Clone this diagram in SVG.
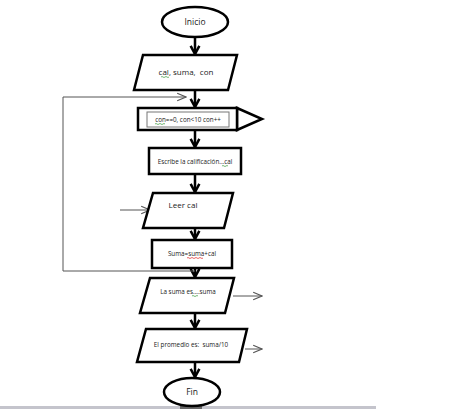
<svg xmlns="http://www.w3.org/2000/svg" width="474" height="410" viewBox="0 0 474 410">
<style>
.s{fill:#fff;stroke:#000;stroke-width:2.5}
.t{font-family:"Open Sans","Liberation Sans",Arial,sans-serif;fill:#222;text-anchor:middle;white-space:pre}
.f{stroke:#000;stroke-width:2.5;fill:none}
.g{stroke:#555;stroke-width:1;fill:none}
.w{fill:none;stroke-width:0.7}
</style>
<defs>
<marker id="a" viewBox="0 0 10 10" refX="8.5" refY="5" markerWidth="4.6" markerHeight="4.6" orient="auto" markerUnits="strokeWidth">
<polyline points="1.5,1.2 8.5,5 1.5,8.8" fill="none" stroke="#000" stroke-width="2.2"/>
</marker>
<marker id="o" viewBox="0 0 10 10" refX="9" refY="5" markerWidth="11" markerHeight="11" orient="auto" markerUnits="strokeWidth">
<polyline points="1,1.5 9,5 1,8.5" fill="none" stroke="#555" stroke-width="1"/>
</marker>
</defs>
<rect x="0" y="406" width="376" height="3" fill="#c4c4cc"/>
<rect x="180" y="406" width="22" height="3" fill="#666"/>
<g id="connectors">
<line class="f" x1="195" y1="37" x2="195" y2="54" marker-end="url(#a)"/>
<line class="f" x1="195" y1="90" x2="195" y2="107" marker-end="url(#a)"/>
<line class="f" x1="195" y1="130" x2="195" y2="147" marker-end="url(#a)"/>
<line class="f" x1="195" y1="174" x2="195" y2="192" marker-end="url(#a)"/>
<line class="f" x1="195" y1="228" x2="195" y2="239" marker-end="url(#a)"/>
<line class="f" x1="195" y1="268" x2="195" y2="277" marker-end="url(#a)"/>
<line class="f" x1="195" y1="313" x2="195" y2="328" marker-end="url(#a)"/>
<line class="f" x1="195" y1="362" x2="195" y2="377" marker-end="url(#a)"/>
<polyline class="g" points="195,271 63,271 63,97 186,97" marker-end="url(#o)"/>
<line class="g" x1="120" y1="210" x2="150" y2="210" marker-end="url(#o)"/>
<line class="g" x1="233" y1="296" x2="262" y2="296" marker-end="url(#o)"/>
<line class="g" x1="245" y1="349" x2="262" y2="349" marker-end="url(#o)"/>
</g>
<g id="inicio">
<ellipse class="s" cx="195" cy="22" rx="33" ry="15"/>
<text class="t" x="195" y="25" font-size="8.5">Inicio</text>
</g>
<g id="declare">
<polygon class="s" points="143,55 237,55 228,90 134,90"/>
<text class="t" x="186" y="75" font-size="8" xml:space="preserve">cal, suma,  con</text>
<path class="w" stroke="#3a9a3a" d="M161,77 q1,-1 2,0 t2,0 t2,0 t2,0"/>
</g>
<g id="loop">
<polygon class="s" points="237,108 262,119 237,130"/>
<rect class="s" x="138" y="108" width="99" height="22"/>
<rect x="147" y="112" width="82" height="15" fill="#fff" stroke="#777" stroke-width="1"/>
<text class="t" x="188" y="122" font-size="6.3">con==0, con&lt;10 con++</text>
<path class="w" stroke="#3a9a3a" d="M155,124 q1,-1 2,0 t2,0 t2,0 t2,0 t2,0"/>
</g>
<g id="escribe">
<rect class="s" x="149" y="148" width="92" height="26"/>
<text class="t" x="195" y="164" font-size="6.3">Escribe la calificación...cal</text>
<path class="w" stroke="#3a9a3a" d="M222,166 q1,-1 2,0 t2,0 t2,0"/>
</g>
<g id="leer">
<polygon class="s" points="153,193 233,193 224,228 143,228"/>
<text class="t" x="183" y="208" font-size="8">Leer cal</text>
</g>
<g id="suma">
<rect class="s" x="152" y="240" width="80" height="28"/>
<text class="t" x="192" y="256" font-size="6.3">Suma=suma+cal</text>
<path class="w" stroke="#d22" d="M187,258 q1,-1 2,0 t2,0 t2,0 t2,0 t2,0 t2,0 t2,0 t2,0"/>
</g>
<g id="out1">
<polygon class="s" points="150,278 234,278 225,313 140,313"/>
<text class="t" x="188" y="294" font-size="6.3">La suma es....suma</text>
<path class="w" stroke="#3a9a3a" d="M192,296 q1,-1 2,0 t2,0 t2,0"/>
</g>
<g id="out2">
<polygon class="s" points="146,329 247,329 239,362 137,362"/>
<text class="t" x="191" y="347" font-size="6.3" xml:space="preserve">El promedio es:  suma/10</text>
</g>
<g id="fin">
<ellipse class="s" cx="192" cy="392" rx="28" ry="14"/>
<text class="t" x="192" y="395" font-size="8.5">Fin</text>
</g>
</svg>
